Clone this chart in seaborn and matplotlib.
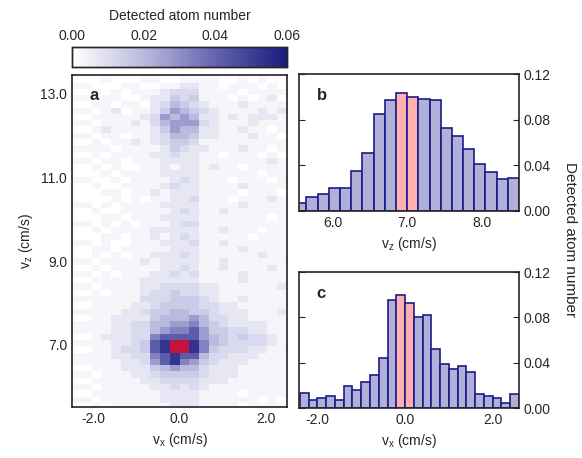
import numpy as np
import pandas as pd
import matplotlib
matplotlib.use('Agg')
import matplotlib.pyplot as plt
from matplotlib.colors import LinearSegmentedColormap, ListedColormap
import seaborn as sns

# --- data ---
# heatmap a: 22 columns in vx (-2.5..2.5), 53 rows in vz (13.45 down to 5.5, 0.15 step)
# each character is a level 0..9, looked up in level_values
level_values = [0.0, 0.003, 0.007, 0.011, 0.015, 0.020, 0.027, 0.033, 0.042, 0.053]
vx_min, vx_max, n_cols = -2.5, 2.5, 22
vz_top, vz_step = 13.45, 0.15
grid_rows = [
    "0001000110011110010100",
    "1100011001122110111010",
    "0010101112333111101111",
    "1101100122434111010120",
    "0011011023543211121111",
    "1101201124654321111212",
    "0011111236565221212221",
    "1101112135666321112111",
    "0012111124655221121101",
    "1101101123554221112110",
    "0010112123443111111111",
    "1111011112432211121101",
    "0010111122322110111010",
    "1101101112222111111121",
    "0010100112122121101111",
    "0001011112222111111011",
    "1100101111232111011101",
    "0010011112322111121111",
    "0001101121222111101110",
    "0000101011223111011121",
    "1101011112222111121111",
    "0010011111232112111111",
    "0001101112222111111101",
    "1101010111233111111111",
    "0010111122222112111011",
    "0001101121232111110111",
    "1101001112223112111111",
    "0011011111222111121111",
    "0010101122232111111211",
    "1101111212222112111111",
    "0010111112232112111121",
    "1101011122323111121111",
    "0011111222222111121111",
    "1101111223333221111112",
    "0010111233433221111111",
    "1111111333444321121111",
    "0011112234444332211111",
    "1111122344554432221112",
    "0011222245556533221111",
    "1111223355667543222211",
    "1111223356778644332211",
    "0012223378888654343321",
    "1111223489999754333321",
    "0011233489999743332211",
    "1111223378988533222111",
    "1111122368976432221111",
    "0011122245655322211111",
    "1101112234444322211111",
    "0011111223333222111111",
    "1101111122323211111111",
    "0011111112222111101111",
    "1101111112222111111010",
    "0010111111222111101111",
]
# highlighted (red) cells: row, column
red_cells = [(42, 10), (42, 11), (43, 10), (43, 11)]

# histogram b (vz, 0.15 bins from 5.5)
vz_edges_start, vz_bin = 5.5, 0.15
vz_counts = [0.007, 0.012, 0.015, 0.020, 0.020, 0.035, 0.051, 0.085, 0.097, 0.103,
             0.100, 0.098, 0.097, 0.073, 0.066, 0.054, 0.041, 0.034, 0.028, 0.029]
vz_pink = (6.85, 7.15)

# histogram c (vx, 0.2 bins from -2.4)
vx_edges_start, vx_bin = -2.4, 0.2
vx_counts = [0.013, 0.007, 0.009, 0.011, 0.007, 0.019, 0.016, 0.023, 0.029, 0.044,
             0.095, 0.100, 0.093, 0.080, 0.082, 0.052, 0.039, 0.034, 0.037, 0.032,
             0.012, 0.011, 0.009, 0.004, 0.012]
vx_pink = (-0.2, 0.2)

# --- style ---
sns.set_style('ticks')
plt.rcParams['font.family'] = ['Liberation Sans', 'DejaVu Sans']
plt.rcParams['font.size'] = 10
navy = '#1c1c8a'
bar_blue = '#b0b0d8'
pink = '#ffb0b0'
red = '#c4143c'
cmap = LinearSegmentedColormap.from_list('wb', ['#ffffff', '#babadf', '#6464b0', '#1a1a80'])

grid = np.array([[level_values[int(c)] for c in r.ljust(n_cols, '0')[:n_cols]] for r in grid_rows])
mask_red = np.ones_like(grid, dtype=bool)
for r, c in red_cells:
    mask_red[r, c] = False

fig = plt.figure(figsize=(5.82, 4.58), dpi=100)
W, H = 582, 458
def px(l, t, r, b):
    return [l / W, 1 - b / H, (r - l) / W, (b - t) / H]

ax_a = fig.add_axes(px(72, 75, 287, 407))
cax = fig.add_axes(px(72, 47, 287, 67))
ax_b = fig.add_axes(px(299, 74, 519, 211))
ax_c = fig.add_axes(px(299, 272, 519, 408))

sns.heatmap(grid, ax=ax_a, cmap=cmap, vmin=0, vmax=0.06, cbar_ax=cax,
            cbar_kws={'orientation': 'horizontal', 'ticks': [0, 0.02, 0.04, 0.06]})
sns.heatmap(np.ones_like(grid), mask=mask_red, ax=ax_a, cmap=ListedColormap([red]), cbar=False)

cw = (vx_max - vx_min) / n_cols
xt = [-2.0, 0.0, 2.0]
ax_a.set_xticks([(v - vx_min) / cw for v in xt])
ax_a.set_xticklabels([f'{v:.1f}' for v in xt], rotation=0)
yt = [13.0, 11.0, 9.0, 7.0]
ax_a.set_yticks([(vz_top - v) / vz_step for v in yt])
ax_a.set_yticklabels([f'{v:.1f}' for v in yt], rotation=0)
ax_a.set_ylim((vz_top - 5.55) / vz_step, (vz_top - 13.48) / vz_step)
ax_a.tick_params(direction='in', top=True, right=True, length=4)
for s in ax_a.spines.values():
    s.set_visible(True)
    s.set_color('#222222')
    s.set_linewidth(1.2)
ax_a.set_xlabel('v$_\\mathregular{x}$ (cm/s)')
ax_a.set_ylabel('v$_\\mathregular{z}$ (cm/s)')
ax_a.text(0.08, 0.96, 'a', transform=ax_a.transAxes, fontweight='bold', fontsize=12, va='top')

cax.xaxis.set_ticks_position('top')
cax.xaxis.set_label_position('top')
cax.tick_params(direction='in', length=4, pad=3)
cax.set_xticklabels(['0.00', '0.02', '0.04', '0.06'])
cax.set_xlabel('Detected atom number', labelpad=6)
for s in cax.spines.values():
    s.set_visible(True)
    s.set_linewidth(1)


def hist_panel(ax, start, width, counts, pink_rng, xlim, xticks, xlabel, letter):
    edges = [start + width * i for i in range(len(counts) + 1)]
    centers = [start + width * (i + 0.5) for i in range(len(counts))]
    sns.histplot(x=centers, weights=counts, bins=edges, ax=ax, color=bar_blue,
                 edgecolor=navy, linewidth=1.2, alpha=1)
    for p in ax.patches:
        c = p.get_x() + p.get_width() / 2
        if pink_rng[0] < c < pink_rng[1]:
            p.set_facecolor(pink)
    ax.set_xlim(*xlim)
    ax.set_ylim(0, 0.12)
    ax.set_xticks(xticks)
    ax.set_xticklabels([f'{v:.1f}' for v in xticks])
    ax.set_yticks([0, 0.04, 0.08, 0.12])
    ax.set_yticklabels(['0.00', '0.04', '0.08', '0.12'])
    ax.yaxis.tick_right()
    ax.tick_params(direction='in', left=True, right=True, length=4)
    ax.set_ylabel('')
    ax.set_xlabel(xlabel)
    for s in ax.spines.values():
        s.set_visible(True)
        s.set_linewidth(1.2)
    ax.text(0.08, 0.9, letter, transform=ax.transAxes, fontweight='bold', fontsize=12, va='top')


hist_panel(ax_b, vz_edges_start, vz_bin, vz_counts, vz_pink, (5.55, 8.5),
           [6.0, 7.0, 8.0], 'v$_\\mathregular{z}$ (cm/s)', 'b')
hist_panel(ax_c, vx_edges_start, vx_bin, vx_counts, vx_pink, (-2.42, 2.6),
           [-2.0, 0.0, 2.0], 'v$_\\mathregular{x}$ (cm/s)', 'c')

fig.text(570 / W, 1 - 240 / H, 'Detected atom number', rotation=270, ha='center', va='center', fontsize=11)

fig.savefig('out.png', dpi=100)
